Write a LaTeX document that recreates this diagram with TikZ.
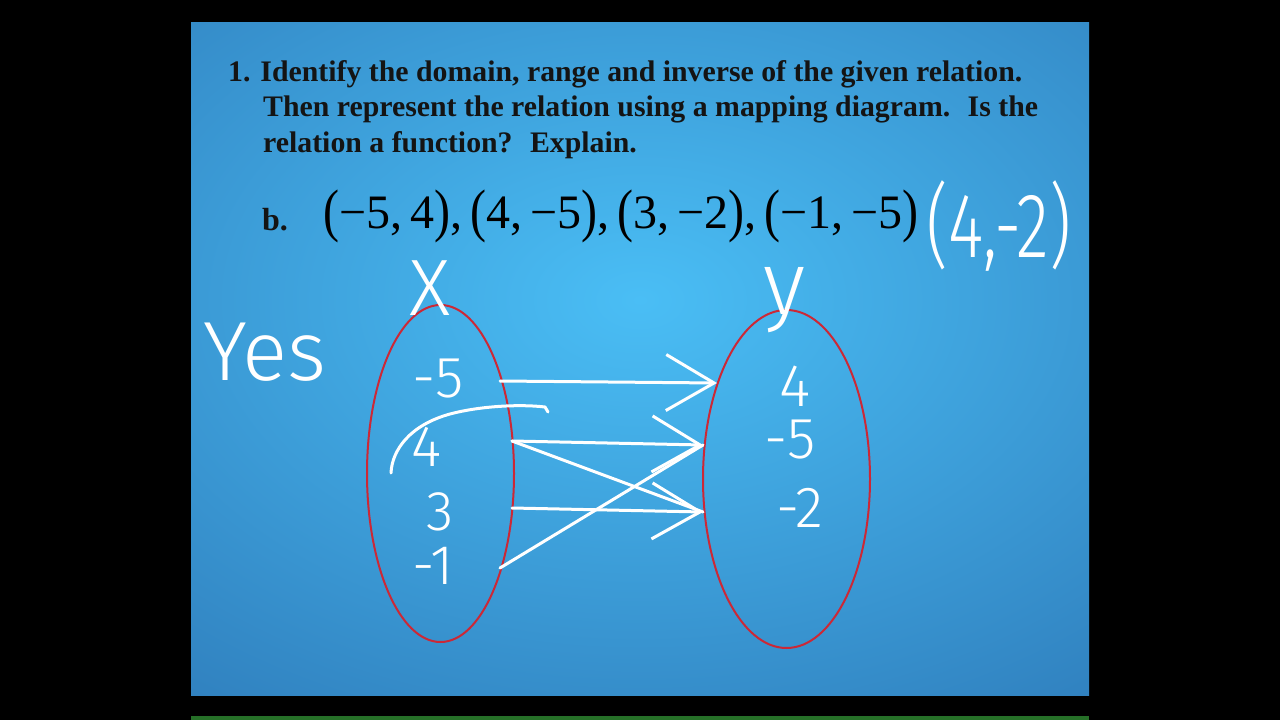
\documentclass[tikz,border=0pt]{standalone}
\usepackage{fontspec}
\setmainfont{Liberation Serif}
\newfontfamily\hand{Fira Sans Light}
\usetikzlibrary{arrows.meta,shapes.geometric,positioning}

\definecolor{slidelight}{RGB}{74,190,245}
\definecolor{slidedark}{RGB}{42,114,178}
\definecolor{ovalred}{RGB}{204,40,54}
\definecolor{stripgreen}{RGB}{38,112,40}
\newcommand{\tallpar}[1]{\raisebox{-0.06em}{\scalebox{1}[1.22]{#1}}}

\begin{document}
\begin{tikzpicture}[x=1pt,y=-1pt,
    oval/.style={
        ellipse,
        draw=ovalred,
        line width=2pt,
        inner sep=0pt
    },
    ink/.style={
        text=white,
        inner sep=0pt,
        font=\hand\fontsize{#1}{#1}\selectfont
    },
    stroke/.style={
        draw=white,
        line width=3pt,
        line cap=round,
        line join=round
    },
    mapto/.style={
        stroke,
        -{Straight Barb[length=48pt,width=56pt]}
    },
    question/.style={
        anchor=base west,
        inner sep=0pt,
        text=black!92,
        font=\bfseries\fontsize{29.8}{34}\selectfont
    }
]
% --- frame and slide ---
\fill[black] (0,0) rectangle (1280,720);
\begin{scope}
    \clip (191,22) rectangle (1089,695);
    \shade[inner color=slidelight, outer color=slidedark] (-310,-320) rectangle (1590,920);
\end{scope}
\fill[stripgreen] (191,716) rectangle (1089,720);

% --- question ---
\node[question] (q1) at (228,81) {1. Identify the domain, range and inverse of the given relation.};
\node[question] (q2) at (263,116) {Then represent the relation using a mapping diagram.~ Is the};
\node[question] (q3) at (263,152) {relation a function?~ Explain.};
\node[question, font=\bfseries\fontsize{32}{32}\selectfont] (b) at (262,230) {b.};
\node[anchor=base west, inner sep=0pt, font=\fontsize{48}{48}\selectfont] (pairs) at (323,228)
    {\tallpar{(}−5,\,4\tallpar{)},\,\tallpar{(}4,\,−5\tallpar{)},\,\tallpar{(}3,\,−2\tallpar{)},\,\tallpar{(}−1,\,−5\tallpar{)}};
\node[ink=68] (extra) at (999,226) {\scalebox{1}[1.35]{(4,-2)}};

% --- sets ---
\node[oval, minimum width=147pt, minimum height=337pt] (X) at (440.5,473.5) {};
\node[oval, minimum width=167pt, minimum height=338pt] (Y) at (786.5,479) {};
\node[ink=80] (xlab) at (430,288) {X};
\node[ink=90] (ylab) at (785,300) {y};
\node[ink=84] (yes) at (265,352) {Yes};

% domain
\node[ink=58] (dm5) at (438,379) {-5};
\node[ink=58] (d4) at (427,447) {4};
\node[ink=56] (d3) at (440,512) {3};
\node[ink=56] (dm1) at (433,566) {-1};
% range
\node[ink=60] (r4) at (795,386) {4};
\node[ink=58] (rm5) at (790,440) {-5};
\node[ink=58] (rm2) at (800,508) {-2};

% --- mapping ---
\coordinate (xm5) at (500,381);
\coordinate (x4) at (512,441);
\coordinate (x3) at (512,508);
\coordinate (xm1) at (500,568);
\coordinate (y4) at (717,383);
\coordinate (ym5) at (703,445);
\coordinate (ym2) at (703,512);
\draw[mapto] (xm5) -- (y4);
\draw[mapto] (x4) -- (ym5);
\draw[stroke] (x4) -- (ym2);
\draw[mapto] (x3) -- (ym2);
\draw[stroke] (xm1) -- (ym5);
% stroke over the 4
\draw[stroke] (391,473) .. controls (392,450) and (410,425) .. (450,414)
    .. controls (480,406) and (520,404) .. (545,407) -- (548,412);
\end{tikzpicture}
\end{document}
